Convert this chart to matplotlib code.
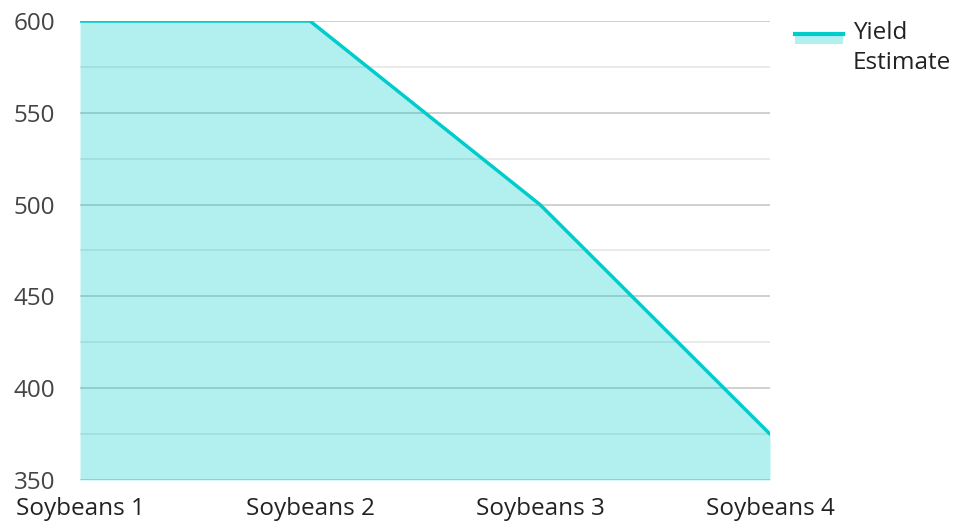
import matplotlib
matplotlib.use("Agg")
import matplotlib.pyplot as plt
from matplotlib.lines import Line2D
from matplotlib.patches import Rectangle

categories = ["Soybeans 1", "Soybeans 2", "Soybeans 3", "Soybeans 4"]
yield_estimate = [600, 600, 500, 375]
y_ticks = [350, 400, 450, 500, 550, 600]
series_name = "Yield\nEstimate"

plt.rcParams['font.family'] = ['Open Sans', 'DejaVu Sans']
line_color = "#00CCCC"
fs = 17.5

fig = plt.figure(figsize=(9.55, 5.22), dpi=100)
ax = fig.add_axes([80/955, 1-480/522, 690/955, 459/522])

x = list(range(len(categories)))
ax.set_axisbelow(True)
ax.set_ylim(350, 600)
ax.set_xlim(0, len(categories)-1)
ax.set_yticks(y_ticks)
ax.set_yticks([375, 425, 475, 525, 575], minor=True)
ax.grid(axis='y', which='major', color='#C8C8C8', linewidth=1.2)
ax.grid(axis='y', which='minor', color='#E6E6E6', linewidth=1.2)
ax.fill_between(x, 350, yield_estimate, color=line_color, alpha=0.3, linewidth=0, zorder=2)
ax.plot(x, yield_estimate, color=line_color, linewidth=2.5, zorder=3, solid_capstyle='round')

ax.set_xticks(x)
ax.set_xticklabels(categories)
for s in ax.spines.values():
    s.set_visible(False)
ax.tick_params(axis='both', which='both', length=0, labelsize=fs, colors='#333333')
ax.tick_params(axis='y', pad=18, labelcolor='#444444')
ax.tick_params(axis='x', pad=12, labelcolor='#222222')

# legend
fig.add_artist(Rectangle((795/955, 1-44/522), 48/955, 10/522, transform=fig.transFigure,
                         facecolor=line_color, alpha=0.3, edgecolor='none'))
fig.add_artist(Line2D([795/955, 843/955], [1-33.5/522, 1-33.5/522], transform=fig.transFigure,
                      color=line_color, linewidth=3))
fig.text(853/955, 1-21/522, series_name, fontsize=fs, color='#222222', va='top', ha='left',
         linespacing=1.35)

fig.savefig("out.png", dpi=100)
